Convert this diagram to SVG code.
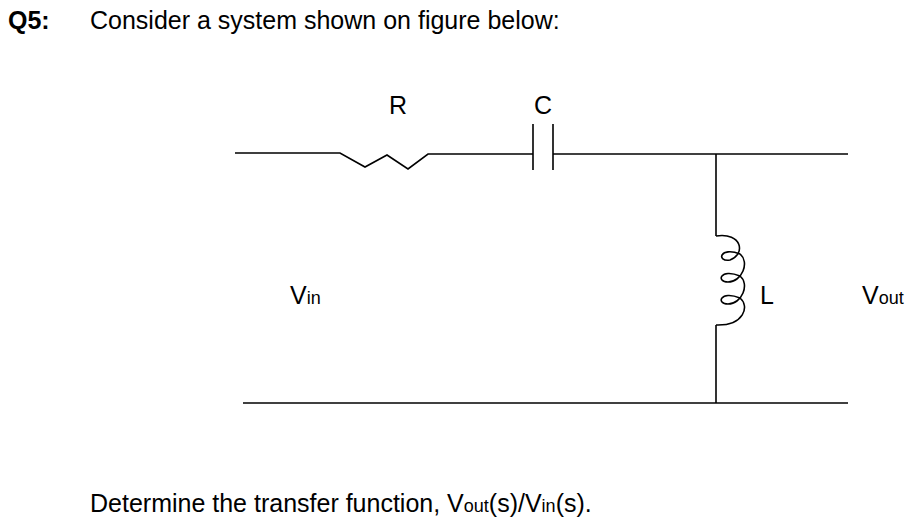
<svg xmlns="http://www.w3.org/2000/svg" width="910" height="525" viewBox="0 0 910 525">
<style>
text{font-family:"Liberation Sans",Arial,sans-serif;font-size:25px;fill:#000}
.w{fill:none;stroke:#000;stroke-width:1.6}
.s{font-size:18px}
</style>
<rect width="910" height="525" fill="#fff"/>
<text x="8" y="29" font-weight="bold">Q5:</text>
<text x="90" y="29">Consider a system shown on figure below:</text>
<g id="connectors">
<path class="w" d="M235,153 H340 L365,167 L387,155 L408,169 L428,154 H533"/>
<path class="w" d="M553,154 H848"/>
<path class="w" d="M716,154 V236"/>
<path class="w" d="M716,325 V403"/>
<path class="w" d="M243,403 H848"/>
</g>
<g id="R"><text x="389" y="114">R</text></g>
<g id="C"><path class="w" d="M533,124 V170 M553,124 V170"/><text x="534" y="114">C</text></g>
<g id="L">
<path class="w" d="M716,236 C742,232 746,254 730,260 C716,262 720,246 740,254 C750,262 742,282 728,282 C716,282 720,268 740,276 C750,284 742,304 728,304 C716,304 720,290 740,298 C750,306 744,326 716,325"/>
<text x="760" y="304">L</text>
</g>
<g id="Vin"><text x="290" y="304">V<tspan class="s">in</tspan></text></g>
<g id="Vout"><text x="862" y="304">V<tspan class="s">out</tspan></text></g>
<text x="90" y="512">Determine the transfer function, V<tspan class="s">out</tspan>(s)/V<tspan class="s">in</tspan>(s).</text>
</svg>
